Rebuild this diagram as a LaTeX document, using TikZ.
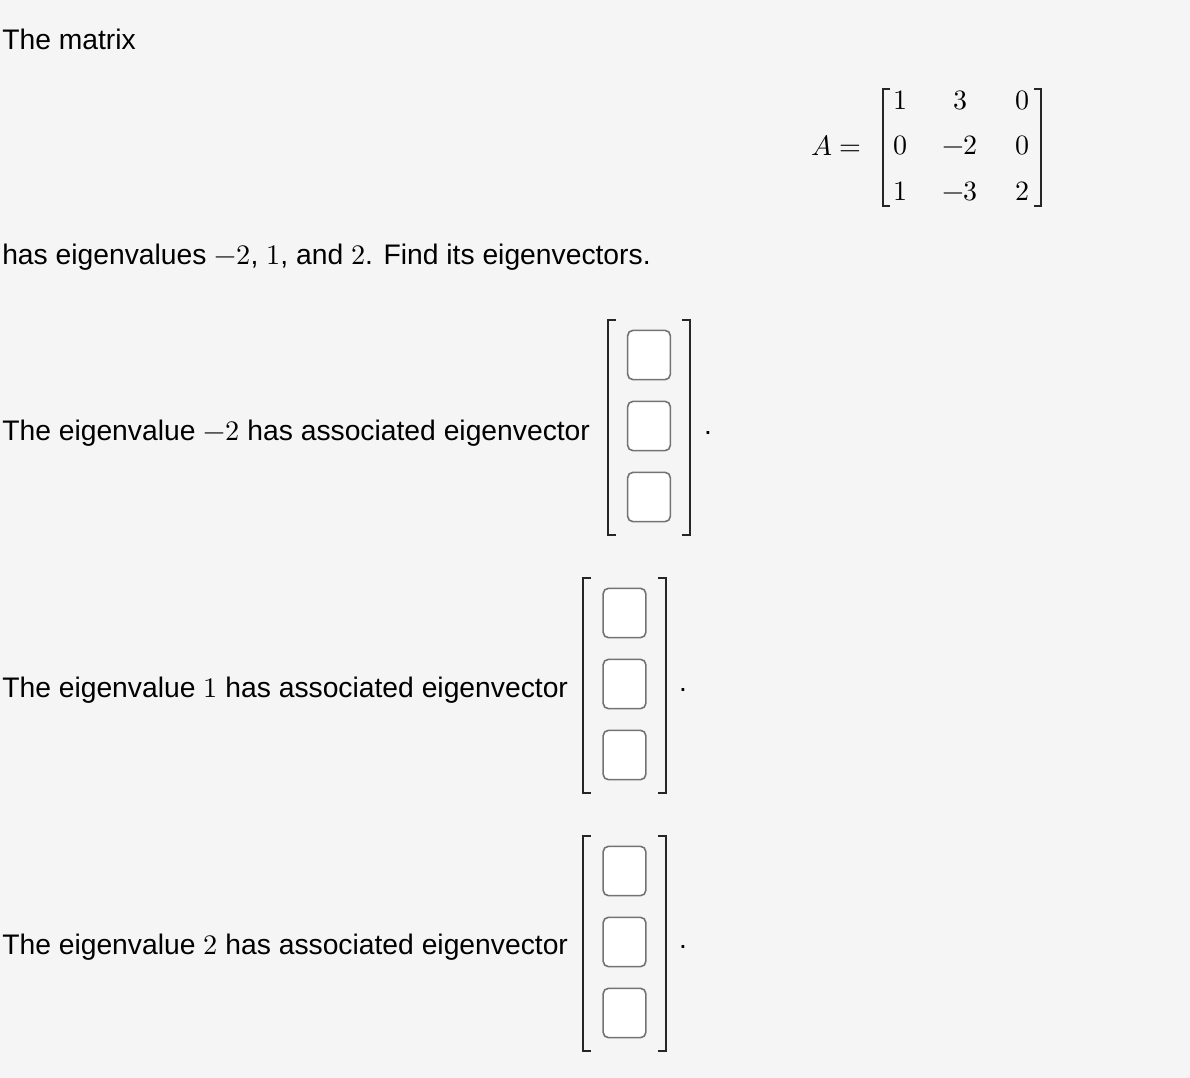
\documentclass[tikz,border=0pt]{standalone}
\usepackage{fontspec}
\setmainfont{Liberation Sans}
\usepackage{unicode-math}
\setmathfont{Latin Modern Math}
\begin{document}
\begin{tikzpicture}[x=0.75pt,y=-0.75pt,
  txt/.style={anchor=west,inner sep=0pt,font=\fontsize{21.2}{25}\selectfont},
  ent/.style={inner sep=0pt,font=\fontsize{21}{25}\selectfont},
  inbox/.style={draw=black!55,line width=1.2pt,rounded corners=4pt,minimum width=32pt,minimum height=37pt,fill=white},
  brk/.style={line width=1.4pt,black!85}]
\fill[gray!8] (0,0) rectangle (1190,1078);
\useasboundingbox (0,0) rectangle (1190,1078);
\node[txt] (t1) at (2,39) {The matrix};
\node[txt] (t2) at (2,257) {has eigenvalues $-2$, $1$, and $2$. Find its eigenvectors.};
\node[ent,anchor=east] (A) at (862,145) {$A=$};
\draw[brk] (890,89) -- (883,89) -- (883,206) -- (890,206);
\draw[brk] (1034,89) -- (1041,89) -- (1041,206) -- (1034,206);
\foreach \r/\y/\a/\b/\c in {1/100/1/3/0, 2/145/0/-2/0, 3/191/1/-3/2}{
  \node[ent] (m\r a) at (900,\y) {$\a$};
  \node[ent] (m\r b) at (960,\y) {$\b$};
  \node[ent] (m\r c) at (1022,\y) {$\c$};
}
\foreach \i/\lab/\tx/\ty/\bl/\br/\top/\dx in {
  1/{$-2$}/{The eigenvalue}/433/608/690/320/708,
  2/{$1$}/{The eigenvalue}/690/583/666/578/683,
  3/{$2$}/{The eigenvalue}/947/583/666/836/683}{
  \node[txt] (l\i) at (2,\ty) {\tx\ \lab\ has associated eigenvector};
  \draw[brk] (\bl+8,\top) -- (\bl,\top) -- (\bl,\top+215) -- (\bl+8,\top+215);
  \draw[brk] (\br-8,\top) -- (\br,\top) -- (\br,\top+215) -- (\br-8,\top+215);
  \node[inbox] (b\i a) at ({(\bl+\br)/2},\top+35) {};
  \node[inbox] (b\i b) at ({(\bl+\br)/2},\top+106) {};
  \node[inbox] (b\i c) at ({(\bl+\br)/2},\top+177) {};
  \node[ent] (d\i) at (\dx,\ty) {.};
}
\end{tikzpicture}
\end{document}
